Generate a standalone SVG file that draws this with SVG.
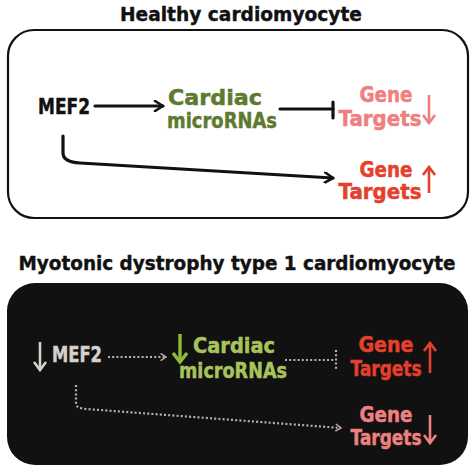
<svg xmlns="http://www.w3.org/2000/svg" width="474" height="474" viewBox="0 0 474 474">
<defs>
<style>
text{font-family:"DejaVu Sans","Liberation Sans",sans-serif;font-weight:bold;}
.t{font-size:19px;fill:#111;stroke:#111;stroke-width:0.4;text-anchor:middle;}
.n{font-size:21px;stroke-width:0.5;text-anchor:middle;}
.solid{fill:none;stroke:#111;stroke-width:3.2;stroke-linecap:round;stroke-linejoin:round;}
.dot{fill:none;stroke:#b8b2ac;stroke-width:2.2;stroke-dasharray:2 2.2;}
</style>
<marker id="ah" viewBox="0 0 12 12" refX="10" refY="6" markerWidth="12" markerHeight="12" markerUnits="userSpaceOnUse" orient="auto">
<path d="M2,1 L10,6 L2,11" fill="none" stroke="#111" stroke-width="2.6" stroke-linecap="round" stroke-linejoin="round"/>
</marker>
<marker id="ahd" viewBox="0 0 10 10" refX="8" refY="5" markerWidth="9" markerHeight="9" markerUnits="userSpaceOnUse" orient="auto">
<path d="M2,1 L8,5 L2,9" fill="none" stroke="#b8b2ac" stroke-width="1.6"/>
</marker>
</defs>
<rect width="474" height="474" fill="#fff"/>
<text class="t" x="241" y="21" textLength="242" lengthAdjust="spacingAndGlyphs">Healthy cardiomyocyte</text>
<rect x="8" y="30" width="460" height="188" rx="26" fill="#fff" stroke="#111" stroke-width="2.2"/>
<text class="t" x="237" y="270" textLength="437" lengthAdjust="spacingAndGlyphs">Myotonic dystrophy type 1 cardiomyocyte</text>
<rect x="7" y="283" width="461" height="182" rx="28" fill="#111"/>

<g id="mef2-top"><text class="n" x="64" y="114" fill="#111" stroke="#111" textLength="52" lengthAdjust="spacingAndGlyphs">MEF2</text></g>
<g id="mirna-top"><text class="n" x="215" y="105" fill="#5e7a30" stroke="#5e7a30" textLength="94" lengthAdjust="spacingAndGlyphs">Cardiac</text><text class="n" x="222" y="128" fill="#5e7a30" stroke="#5e7a30" textLength="110" lengthAdjust="spacingAndGlyphs">microRNAs</text></g>
<g id="gene-down-top"><text class="n" x="386" y="102" fill="#ee8080" stroke="#ee8080" textLength="53" lengthAdjust="spacingAndGlyphs">Gene</text><text class="n" x="380" y="126" fill="#ee8080" stroke="#ee8080" textLength="83" lengthAdjust="spacingAndGlyphs">Targets</text><path d="M429,95 V121" stroke="#ee8080" stroke-width="2.6" fill="none"/><path d="M423,115 L429,123 L435,115" stroke="#ee8080" stroke-width="2.6" fill="none"/></g>
<g id="gene-up-top"><text class="n" x="386" y="177" fill="#e4402c" stroke="#e4402c" textLength="53" lengthAdjust="spacingAndGlyphs">Gene</text><text class="n" x="380" y="199" fill="#e4402c" stroke="#e4402c" textLength="83" lengthAdjust="spacingAndGlyphs">Targets</text><path d="M429,193 V169" stroke="#e4402c" stroke-width="2.6" fill="none"/><path d="M423,175 L429,167 L435,175" stroke="#e4402c" stroke-width="2.6" fill="none"/></g>

<g id="mef2-bot"><text class="n" x="77" y="362" fill="#d6d0ca" stroke="#d6d0ca" textLength="50" lengthAdjust="spacingAndGlyphs">MEF2</text><path d="M40,342 V368" stroke="#d6d0ca" stroke-width="2.6" fill="none"/><path d="M34,362 L40,370 L46,362" stroke="#d6d0ca" stroke-width="2.6" fill="none"/></g>
<g id="mirna-bot"><text class="n" x="234" y="353" fill="#a9c35c" stroke="#a9c35c" textLength="82" lengthAdjust="spacingAndGlyphs">Cardiac</text><text class="n" x="233" y="378" fill="#a9c35c" stroke="#a9c35c" textLength="108" lengthAdjust="spacingAndGlyphs">microRNAs</text><path d="M180,334 V360" stroke="#8fba3a" stroke-width="3.4" fill="none"/><path d="M173,353 L180,362 L187,353" stroke="#8fba3a" stroke-width="3.4" fill="none"/></g>
<g id="gene-up-bot"><text class="n" x="386" y="352" fill="#e4402c" stroke="#e4402c" textLength="55" lengthAdjust="spacingAndGlyphs">Gene</text><text class="n" x="386" y="376" fill="#e4402c" stroke="#e4402c" textLength="71" lengthAdjust="spacingAndGlyphs">Targets</text><path d="M430,373 V345" stroke="#e4402c" stroke-width="2.6" fill="none"/><path d="M424,351 L430,343 L436,351" stroke="#e4402c" stroke-width="2.6" fill="none"/></g>
<g id="gene-down-bot"><text class="n" x="386" y="422" fill="#ee8080" stroke="#ee8080" textLength="53" lengthAdjust="spacingAndGlyphs">Gene</text><text class="n" x="386" y="445" fill="#ee8080" stroke="#ee8080" textLength="71" lengthAdjust="spacingAndGlyphs">Targets</text><path d="M430,415 V441" stroke="#ee8080" stroke-width="2.6" fill="none"/><path d="M424,435 L430,443 L436,435" stroke="#ee8080" stroke-width="2.6" fill="none"/></g>

<g id="connectors">
<path class="solid" d="M95,106 H163" marker-end="url(#ah)"/>
<path class="solid" d="M280,109 H333"/>
<path class="solid" d="M333,102 V118"/>
<path class="solid" d="M63,136 V153 Q63,162 80,163 L333,178" marker-end="url(#ah)"/>
<path class="dot" d="M108,357 H166" marker-end="url(#ahd)"/>
<path class="dot" d="M285,360 H335"/>
<path class="dot" d="M336,350 V369"/>
<path class="dot" d="M76,385 V404 Q76,408 86,409 L341,428" marker-end="url(#ahd)"/>
</g>
</svg>
